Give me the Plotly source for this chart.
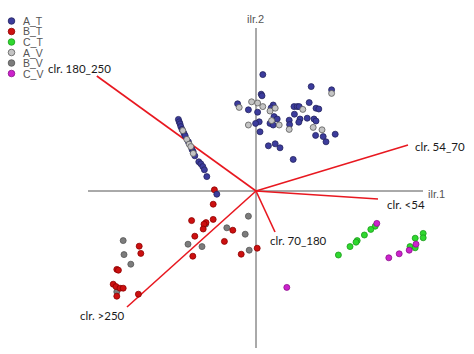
import plotly.graph_objects as go

# ---- data (ilr coordinates) ----
A_T_x = [0.17, 0.13, 0.15, -0.46, -0.19, 0.04, 0.43, 0.38, 0.45, 0.53, 0.35, 0.43, 0.08, -0.01, 0.10,
         0.31, 0.48, 0.60, 0.93, 0.95, 1.03, 1.08, 0.96, 1.10, 1.07, 0.83, 0.84, 1.28, 1.33, 1.38, 1.50,
         1.57, 1.45, 1.50, 1.49, 1.68, 1.75, 1.98, 1.89,
         -1.94, -1.92, -1.90, -1.88, -1.85, -1.80, -1.77, -1.69, -1.60, -1.57, -1.53, -1.43, -1.38,
         -1.33, -1.29, -1.23, -0.98]
A_T_y = [2.91, 2.42, 2.38, 2.18, 2.03, 1.97, 2.15, 2.08, 1.86, 1.80, 1.69, 1.65, 1.73, 1.69, 1.48,
         1.13, 1.18, 1.08, 0.79, 2.11, 2.11, 2.11, 1.92, 1.80, 1.72, 1.77, 1.66, 1.82, 2.21, 2.61, 2.07,
         2.05, 1.80, 1.75, 1.39, 1.36, 1.23, 1.42, 2.53,
         1.79, 1.73, 1.68, 1.61, 1.54, 1.44, 1.38, 1.23, 1.04, 0.98, 0.88, 0.73, 0.68,
         0.61, 0.53, 0.36, -0.08]

A_V_x = [-0.42, -0.11, 0.04, 0.17, 0.35, 0.48, 0.39, 0.58, -0.19, 1.17, 0.83, 1.43, 1.65, 1.89,
         -1.83, -1.73, -1.67, -1.63, -1.57]
A_V_y = [2.09, 2.23, 2.20, 2.11, 2.00, 2.07, 1.76, 1.65, 1.65, 2.04, 1.54, 1.59, 1.53, 2.44,
         1.51, 1.29, 1.17, 1.11, 0.94]

B_T_x = [-1.04, -1.07, -1.61, -1.25, -1.30, -1.07, -1.32, -1.53, -1.58, -0.58, -0.79, -0.37, 0.03,
         -2.92, -2.88, -3.48, -3.44, -3.57, -3.50, -3.40, -3.32, -3.48, -2.94]
B_T_y = [0.03, -0.33, -0.74, -0.79, -0.83, -0.71, -0.95, -1.13, -1.63, -0.98, -1.26, -1.58, -1.43,
         -1.38, -1.56, -1.96, -1.98, -2.33, -2.39, -2.43, -2.43, -2.63, -2.58]

B_V_x = [-1.26, -1.70, -1.35, -0.73, -0.19, -0.27, -0.17, -3.32, -3.30, -3.13, -3.48]
B_V_y = [-0.83, -1.33, -1.39, -0.92, -0.63, -1.08, -1.48, -1.24, -1.59, -1.83, -2.52]

C_T_x = [2.98, 2.87, 2.71, 2.53, 2.50, 2.35, 2.06, 4.18, 4.18, 3.98, 3.85, 3.98]
C_T_y = [-0.88, -0.96, -1.10, -1.24, -1.28, -1.39, -1.60, -1.06, -1.17, -1.18, -1.39, -1.42]

C_V_x = [3.02, 4.00, 3.83, 3.58, 3.32, 0.77]
C_V_y = [-0.81, -1.33, -1.48, -1.57, -1.67, -2.41]

load_names = ["clr. 180_250", "clr. 54_70", "clr. <54", "clr. 70_180", "clr. >250"]
load_x = [-3.98, 3.80, 3.05, 0.475, -3.225]
load_y = [2.875, 1.15, -0.20, -1.025, -2.90]

axis1_extent = [-4.2, 4.175]
axis2_extent = [-3.925, 4.075]

groups = ["A_T", "B_T", "C_T", "A_V", "B_V", "C_V"]

# ---- styles ----
styles = {
    "A_T": dict(fill="#3c3c9c", line="#23235e"),
    "B_T": dict(fill="#cc1010", line="#8e0000"),
    "C_T": dict(fill="#2fd82f", line="#1a9a1a"),
    "A_V": dict(fill="#c4c4c4", line="#5a5a5a"),
    "B_V": dict(fill="#7c7c7c", line="#555555"),
    "C_V": dict(fill="#cc22cc", line="#8a118a"),
}
series = {
    "A_T": (A_T_x, A_T_y), "B_T": (B_T_x, B_T_y), "C_T": (C_T_x, C_T_y),
    "A_V": (A_V_x, A_V_y), "B_V": (B_V_x, B_V_y), "C_V": (C_V_x, C_V_y),
}

fig = go.Figure()

# axes lines
fig.add_trace(go.Scatter(x=axis1_extent, y=[0, 0], mode="lines",
                         line=dict(color="#555555", width=1), hoverinfo="skip", showlegend=False))
fig.add_trace(go.Scatter(x=[0, 0], y=axis2_extent, mode="lines",
                         line=dict(color="#555555", width=1), hoverinfo="skip", showlegend=False))

# loading vectors
for name, lx, ly in zip(load_names, load_x, load_y):
    fig.add_trace(go.Scatter(x=[0, lx], y=[0, ly], mode="lines",
                             line=dict(color="#e81820", width=1.6), hoverinfo="skip", showlegend=False))

# points
for g in ["B_V", "B_T", "C_T", "C_V", "A_T", "A_V"]:
    xs, ys = series[g]
    st = styles[g]
    fig.add_trace(go.Scatter(x=xs, y=ys, mode="markers", name=g,
                             marker=dict(size=6, color=st["fill"], line=dict(color=st["line"], width=0.8)),
                             showlegend=False))

# loading labels
label_pos = {
    "clr. 180_250": dict(xanchor="center", yanchor="middle", xshift=-17, yshift=8),
    "clr. 54_70": dict(xanchor="left", yanchor="middle", xshift=5, yshift=-1),
    "clr. <54": dict(xanchor="left", yanchor="middle", xshift=7, yshift=-5),
    "clr. 70_180": dict(xanchor="left", yanchor="middle", xshift=-7, yshift=-8),
    "clr. >250": dict(xanchor="right", yanchor="middle", xshift=0, yshift=-8),
}
for name, lx, ly in zip(load_names, load_x, load_y):
    fig.add_annotation(x=lx, y=ly, text=name, showarrow=False,
                       font=dict(family="Lato", size=11.5, color="#1a1a1a"), **label_pos[name])

# axis labels
fig.add_annotation(x=axis1_extent[1], y=0, text="ilr.1", showarrow=False, xanchor="left",
                   yanchor="middle", xshift=3, yshift=-3,
                   font=dict(family="Liberation Sans", size=11, color="#555555"))
fig.add_annotation(x=0, y=axis2_extent[1], text="ilr.2", showarrow=False, xanchor="center",
                   yanchor="bottom", xshift=-1, yshift=1,
                   font=dict(family="Liberation Sans", size=11, color="#555555"))

# manual legend (tight spacing, as in the reference)
W, H = 474, 354
for i, g in enumerate(groups):
    cy = 21 + i * 10.5
    yp = 1 - cy / H
    fig.add_shape(type="circle", xref="paper", yref="paper", xsizemode="pixel", ysizemode="pixel",
                  xanchor=11.5 / W, yanchor=yp, x0=-3.3, x1=3.3, y0=-3.3, y1=3.3,
                  fillcolor=styles[g]["fill"], line=dict(color=styles[g]["line"], width=0.8))
    fig.add_annotation(xref="paper", yref="paper", x=22 / W, y=yp, text=g, showarrow=False,
                       xanchor="left", yanchor="middle", borderpad=0,
                       font=dict(family="Liberation Sans", size=10.5, color="#555555"))

fig.update_layout(
    width=W, height=H, margin=dict(l=0, r=0, t=0, b=0),
    paper_bgcolor="white", plot_bgcolor="white",
    xaxis=dict(range=[-6.4, 5.45], visible=False, fixedrange=True),
    yaxis=dict(range=[-4.075, 4.775], visible=False, fixedrange=True),
    showlegend=False,
)

fig.write_html("out.html")
